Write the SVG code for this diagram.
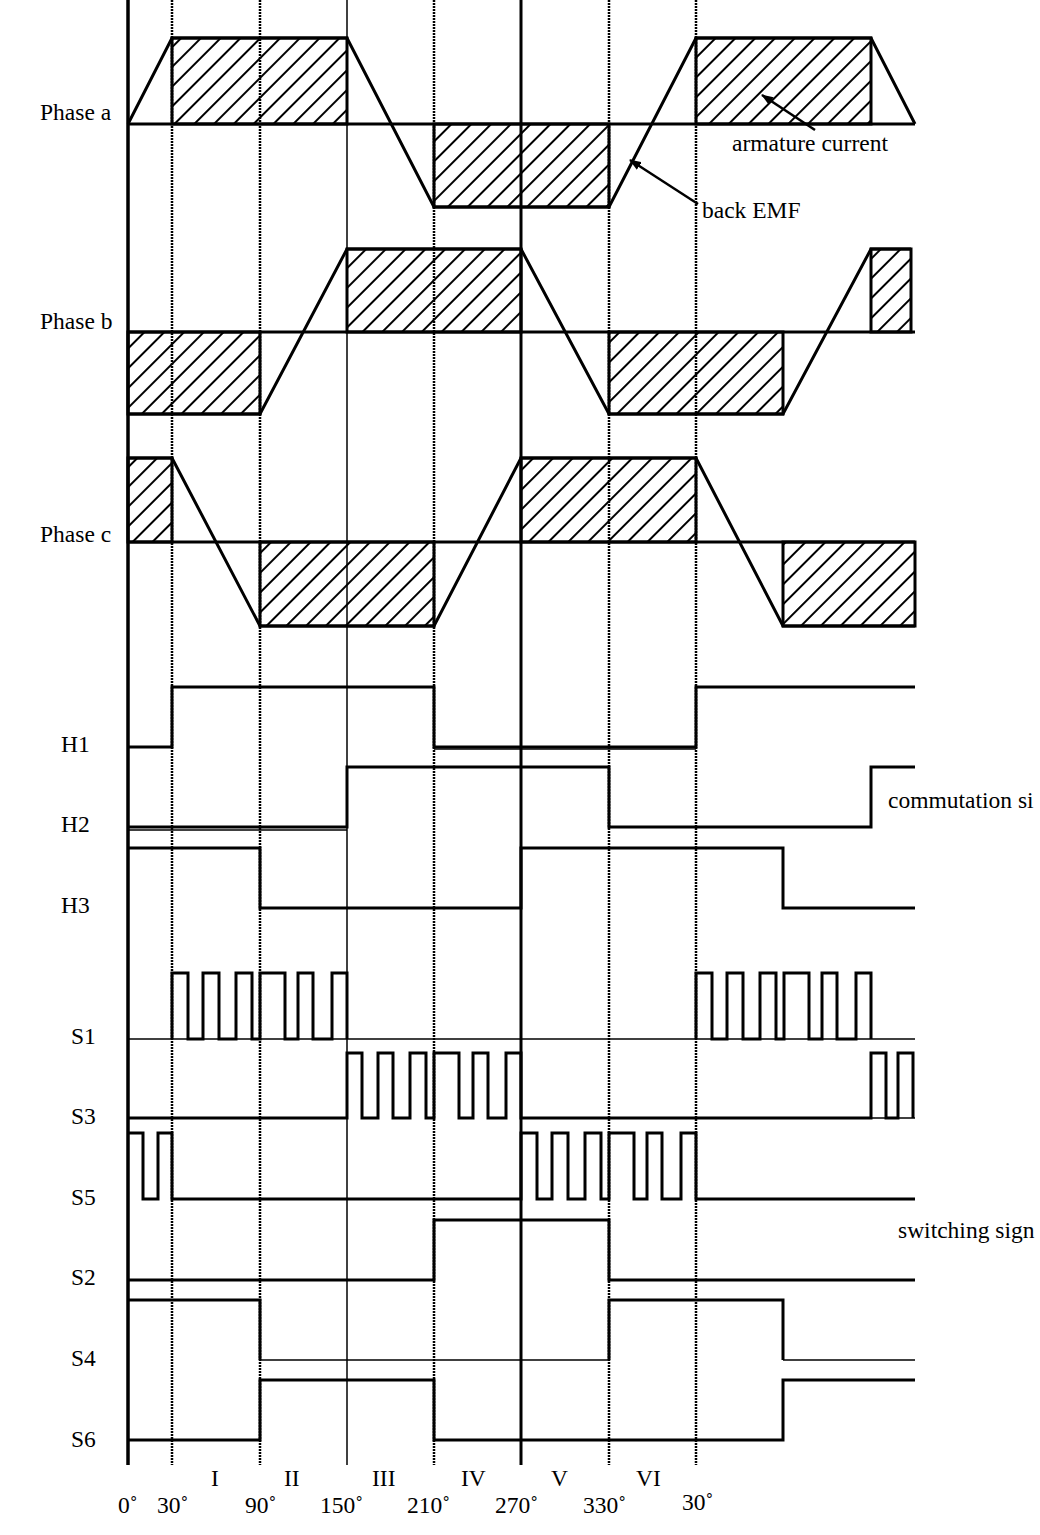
<svg xmlns="http://www.w3.org/2000/svg" width="1040" height="1535" viewBox="0 0 1040 1535">
<style>
.t{font-family:"Liberation Serif",serif;font-size:23.5px;fill:#000}
.w{fill:none;stroke:#000;stroke-width:3}
.thin{fill:none;stroke:#000;stroke-width:1.5}
.h{fill:url(#hatch);stroke:#000;stroke-width:3}
.gd{stroke:#000;stroke-width:2.5;stroke-dasharray:2,1}
</style>
<defs>
<pattern id="hatch" width="14" height="14" patternUnits="userSpaceOnUse" patternTransform="rotate(45)">
<line x1="0" y1="0" x2="0" y2="14" stroke="#000" stroke-width="4"/>
</pattern>
<marker id="ar" markerWidth="12" markerHeight="9" refX="11" refY="4.5" orient="auto" markerUnits="userSpaceOnUse"><path d="M0,0 L12,4.5 L0,9 z" fill="#000"/></marker>
</defs>
<rect width="1040" height="1535" fill="#fff"/>
<g id="grid">
<line x1="128" y1="0" x2="128" y2="1465" stroke="#000" stroke-width="3.5"/>
<line x1="172" y1="0" x2="172" y2="1465" class="gd"/>
<line x1="260" y1="0" x2="260" y2="1465" class="gd"/>
<line x1="347" y1="0" x2="347" y2="1465" stroke="#000" stroke-width="1.5"/>
<line x1="434" y1="0" x2="434" y2="1465" class="gd"/>
<line x1="521" y1="0" x2="521" y2="1465" stroke="#000" stroke-width="3"/>
<line x1="609" y1="0" x2="609" y2="1465" class="gd"/>
<line x1="696" y1="0" x2="696" y2="1465" class="gd"/>
</g>
<g id="phase-a">
<rect x="172" y="38" width="175" height="86" class="h"/>
<rect x="434" y="124" width="175" height="83" class="h"/>
<rect x="696" y="38" width="175" height="86" class="h"/>
<line x1="128" y1="124" x2="915" y2="124" class="w"/>
<polyline points="128,124 172,38 347,38 434,207 609,207 696,38 871,38 915,124" class="w"/>
<text x="40" y="120" class="t">Phase a</text>
</g>
<g id="phase-b">
<rect x="128" y="332" width="132" height="82" class="h"/>
<rect x="347" y="249" width="174" height="83" class="h"/>
<rect x="609" y="332" width="174" height="82" class="h"/>
<rect x="871" y="249" width="40" height="83" class="h"/>
<line x1="128" y1="332" x2="915" y2="332" class="w"/>
<polyline points="128,414 260,414 347,249 521,249 609,414 783,414 871,249 911,249" class="w"/>
<text x="40" y="329" class="t">Phase b</text>
</g>
<g id="phase-c">
<rect x="128" y="458" width="44" height="84" class="h"/>
<rect x="260" y="542" width="174" height="84" class="h"/>
<rect x="521" y="458" width="175" height="84" class="h"/>
<rect x="783" y="542" width="132" height="84" class="h"/>
<line x1="128" y1="542" x2="915" y2="542" class="w"/>
<polyline points="128,458 172,458 260,626 434,626 521,458 696,458 783,626 915,626" class="w"/>
<text x="40" y="542" class="t">Phase c</text>
</g>
<g id="annotations">
<line x1="815" y1="130" x2="762" y2="95" stroke="#000" stroke-width="2.5" marker-end="url(#ar)"/>
<text x="732" y="151" class="t">armature current</text>
<line x1="698" y1="204" x2="630" y2="160" stroke="#000" stroke-width="2.5" marker-end="url(#ar)"/>
<text x="702" y="218" class="t">back EMF</text>
<text x="888" y="808" class="t">commutation si</text>
<text x="898" y="1238" class="t">switching sign</text>
</g>
<g id="hall">
<text x="61" y="752" class="t">H1</text>
<path d="M128,747 H172 V687 H434 V747 H696 V687 H915" class="w"/>
<line x1="434" y1="749" x2="696" y2="749" class="thin"/>
<text x="61" y="832" class="t">H2</text>
<path d="M128,827 H347 V767 H609 V827 H871 V767 H915" class="w"/>
<line x1="128" y1="830" x2="347" y2="830" class="thin"/>
<text x="61" y="913" class="t">H3</text>
<path d="M128,848 H260 V908 H521 V848 H783 V908 H915" class="w"/>
</g>
<g id="switch">
<text x="71" y="1044" class="t">S1</text>
<line x1="128" y1="1039" x2="915" y2="1039" class="thin"/>
<path d="M172,1039 V973 H188 V1039 H203 V973 H219 V1039 H236 V973 H252 V1039 H260 V973 H285 V1039 H298 V973 H313 V1039 H332 V973 H347 V1039" class="w"/>
<path d="M696,1039 V973 H712 V1039 H727 V973 H743 V1039 H760 V973 H776 V1039 H784 V973 H809 V1039 H822 V973 H837 V1039 H856 V973 H871 V1039" class="w"/>
<text x="71" y="1124" class="t">S3</text>
<path d="M128,1118 H347 V1053 H362 V1118 H378 V1053 H393 V1118 H410 V1053 H426 V1118 H434 V1053 H459 V1118 H473 V1053 H488 V1118 H506 V1053 H521 V1118 H871 V1053 H886 V1118 H898 V1053 H913 V1118" class="w"/>
<line x1="521" y1="1118" x2="915" y2="1118" class="thin"/>
<text x="71" y="1205" class="t">S5</text>
<path d="M128,1133 H143 V1199 H158 V1133 H172 V1199 H521 V1133 H537 V1199 H552 V1133 H568 V1199 H585 V1133 H601 V1199 H609 V1133 H634 V1199 H647 V1133 H662 V1199 H681 V1133 H696 V1199 H915" class="w"/>
<text x="71" y="1285" class="t">S2</text>
<path d="M128,1280 H434 V1220 H609 V1280 H915" class="w"/>
<text x="71" y="1366" class="t">S4</text>
<path d="M128,1300 H260 V1360" class="w"/>
<line x1="260" y1="1360" x2="609" y2="1360" class="thin"/>
<path d="M609,1360 V1300 H783 V1360" class="w"/>
<line x1="783" y1="1360" x2="915" y2="1360" class="thin"/>
<text x="71" y="1447" class="t">S6</text>
<path d="M128,1440 H260 V1380 H434 V1440 H783 V1380 H915" class="w"/>
</g>
<g id="labels">
<text x="211" y="1486" class="t">I</text>
<text x="284" y="1486" class="t">II</text>
<text x="372" y="1486" class="t">III</text>
<text x="461" y="1486" class="t">IV</text>
<text x="551" y="1486" class="t">V</text>
<text x="636" y="1486" class="t">VI</text>
<text x="118" y="1513" class="t">0˚</text>
<text x="157" y="1513" class="t">30˚</text>
<text x="245" y="1513" class="t">90˚</text>
<text x="320" y="1513" class="t">150˚</text>
<text x="407" y="1513" class="t">210˚</text>
<text x="495" y="1513" class="t">270˚</text>
<text x="583" y="1513" class="t">330˚</text>
<text x="682" y="1510" class="t">30˚</text>
</g>
</svg>
